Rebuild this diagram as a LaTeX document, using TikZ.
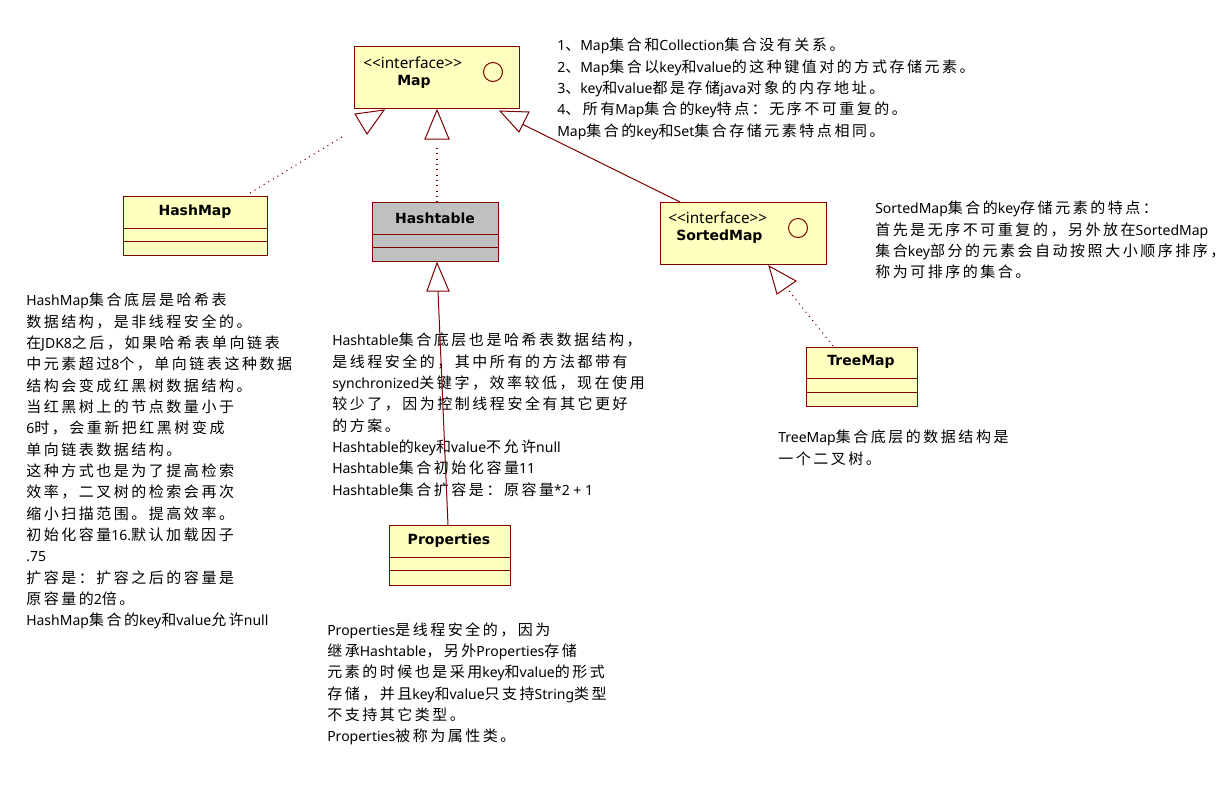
\documentclass[tikz,border=0pt]{standalone}
\usepackage{fontspec}
\setmainfont{Noto Sans}
\newfontfamily\cjkfont[Scale=1.07,LetterSpace=17]{Noto Sans CJK SC}
\newfontfamily\titlefont{DejaVu Sans Bold}
\XeTeXinterchartokenstate=1
\newXeTeXintercharclass\CJKcls
\newcount\cjkcc
\cjkcc="3000
\loop \XeTeXcharclass\cjkcc=\CJKcls \ifnum\cjkcc<"303F \advance\cjkcc by 1 \repeat
\cjkcc="4E00
\loop \XeTeXcharclass\cjkcc=\CJKcls \ifnum\cjkcc<"9FFF \advance\cjkcc by 1 \repeat
\cjkcc="FF00
\loop \XeTeXcharclass\cjkcc=\CJKcls \ifnum\cjkcc<"FFEF \advance\cjkcc by 1 \repeat
\XeTeXinterchartoks 0 \CJKcls = {\cjkfont}
\XeTeXinterchartoks 4095 \CJKcls = {\cjkfont}
\XeTeXinterchartoks \CJKcls 0 = {\rmfamily}
\XeTeXinterchartoks \CJKcls 4095 = {\rmfamily}
\definecolor{dred}{HTML}{800000}
\definecolor{cyell}{HTML}{FFFFC0}
\definecolor{cgray}{HTML}{C0C0C0}
\newcommand{\stereotext}{<\kern0pt<interface>\kern0pt>}
\tikzset{
  cls/.style={draw=dred, fill=cyell, line width=0.75pt, inner sep=0, anchor=north west},
  ttl/.style={font=\fontsize{10.5}{13}\titlefont, inner sep=0},
  stereo/.style={font=\fontsize{11.5}{13}\selectfont, inner sep=0, anchor=west},
  txt/.style={font=\fontsize{10.5}{16}\selectfont, align=left, anchor=north west, inner sep=0},
  gen/.style={draw=dred, line width=0.75pt, fill=white},
  dots/.style={draw=dred, line width=0.8pt, dash pattern=on 0.8pt off 3.2pt},
  link/.style={draw=dred, line width=0.75pt},
  ball/.style={draw=dred, line width=0.75pt, circle, minimum size=14.25pt, inner sep=0}
}
\begin{document}
\begin{tikzpicture}[x=0.75pt,y=-0.75pt]
\fill[white] (0,0) rectangle (1228,797);
\useasboundingbox (0,0) rectangle (1228,797);

% class boxes
\node[cls, minimum width=123.75pt, minimum height=46.5pt] (map) at (354,46) {};
\node[stereo] (mapst) at (363,63) {\stereotext};
\node[ttl, anchor=west] (mapname) at (397,82) {Map};
\node[ball] (mapball) at (493,72) {};

\node[cls, minimum width=108pt, minimum height=44.25pt] (hashmap) at (123,196) {};
\draw[link] (123,228) -- (268,228);
\draw[link] (123,241) -- (268,241);
\node[ttl] (hashmapname) at (195,212) {HashMap};

\node[cls, fill=cgray, minimum width=94.5pt, minimum height=44.25pt] (hashtable) at (372,202) {};
\draw[link] (372,234) -- (499,234);
\draw[link] (372,247) -- (499,247);
\node[ttl] (hashtablename) at (435,218) {Hashtable};

\node[cls, minimum width=124.5pt, minimum height=46.5pt] (sortedmap) at (660,202) {};
\node[stereo] (sortedst) at (668,218) {\stereotext};
\node[ttl, anchor=west] (sortedname) at (676,237) {SortedMap};
\node[ball] (sortedball) at (798,228) {};

\node[cls, minimum width=83.25pt, minimum height=44.25pt] (treemap) at (806,347) {};
\draw[link] (806,378) -- (918,378);
\draw[link] (806,392) -- (918,392);
\node[ttl] (treemapname) at (861,362) {TreeMap};

\node[cls, minimum width=90.75pt, minimum height=45pt] (properties) at (389,525) {};
\draw[link] (389,557) -- (511,557);
\draw[link] (389,570) -- (511,570);
\node[ttl] (propertiesname) at (449,541) {Properties};

% notes
\node[txt] (notes) at (557,38) {1、Map集合和Collection集合没有关系。\\
2、Map集合以key和value的这种键值对的方式存储元素。\\
3、key和value都是存储java对象的内存地址。\\
4、所有Map集合的key特点：无序不可重复的。\\
Map集合的key和Set集合存储元素特点相同。};

\node[txt] (sortednotes) at (875,201) {SortedMap集合的key存储元素的特点：\\
首先是无序不可重复的，另外放在SortedMap\\
集合key部分的元素会自动按照大小顺序排序，\\
称为可排序的集合。};

\node[txt] (hashmapnotes) at (26,293) {HashMap集合底层是哈希表\\
数据结构，是非线程安全的。\\
在JDK8之后，如果哈希表单向链表\\
中元素超过8个，单向链表这种数据\\
结构会变成红黑树数据结构。\\
当红黑树上的节点数量小于\\
6时，会重新把红黑树变成\\
单向链表数据结构。\\
这种方式也是为了提高检索\\
效率，二叉树的检索会再次\\
缩小扫描范围。提高效率。\\
初始化容量16.默认加载因子\\
.75\\
扩容是：扩容之后的容量是\\
原容量的2倍。\\
HashMap集合的key和value允许null};

\node[txt] (hashtablenotes) at (332,333) {Hashtable集合底层也是哈希表数据结构，\\
是线程安全的，其中所有的方法都带有\\
synchronized关键字，效率较低，现在使用\\
较少了，因为控制线程安全有其它更好\\
的方案。\\
Hashtable的key和value不允许null\\
Hashtable集合初始化容量11\\
Hashtable集合扩容是：原容量*2 + 1};

\node[txt] (propertiesnotes) at (327,622) {Properties是线程安全的，因为\\
继承Hashtable，另外Properties存储\\
元素的时候也是采用key和value的形式\\
存储，并且key和value只支持String类型\\
不支持其它类型。\\
Properties被称为属性类。};

\node[txt] (treemapnotes) at (778,430) {TreeMap集合底层的数据结构是\\
一个二叉树。};

% connectors
\coordinate (hmEnd) at (250,193);
\coordinate (hmHead) at (342,137);
\draw[dots] (hmEnd) -- (hmHead);
\draw[gen] (355,114) -- (384,110) -- (367,134) -- cycle;

\coordinate (htTop) at (437,148);
\draw[dots] (htTop) -- (hashtable.north -| htTop);
\draw[gen] (437,110) -- (425,139) -- (449,139) -- cycle;

\coordinate (smHead) at (522,124);
\coordinate (smEnd) at (680,202);
\draw[link] (smHead) -- (smEnd);
\draw[gen] (500,111) -- (529,112) -- (519,132) -- cycle;

\coordinate (prTop) at (438,291);
\coordinate (prEnd) at (448,525);
\draw[link] (prTop) -- (prEnd);
\draw[gen] (437,263) -- (427,291) -- (449,291) -- cycle;

\coordinate (tmHead) at (789,291);
\coordinate (tmEnd) at (833,346);
\draw[dots] (tmHead) -- (tmEnd);
\draw[gen] (769,266) -- (796,281) -- (777,294) -- cycle;
\end{tikzpicture}
\end{document}
